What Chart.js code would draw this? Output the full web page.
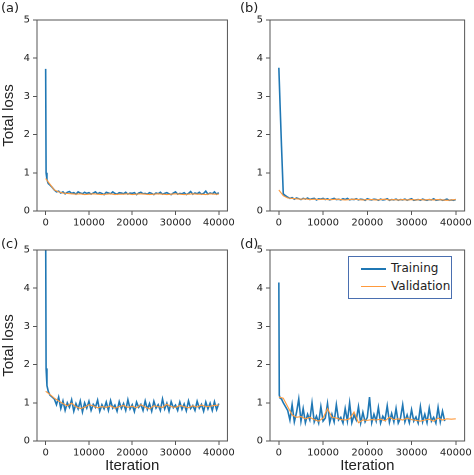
<!DOCTYPE html>
<html>
<head>
<meta charset="utf-8">
<script src="https://cdn.jsdelivr.net/npm/chart.js@4"></script>
<style>
  body { margin: 0; background: #fff; }
  #wrap { position: relative; width: 474px; height: 475px; }
  .panel { position: absolute; }
  .lbl { position: absolute; font: 13px "DejaVu Sans", sans-serif; color: #222; }
  #legend { position: absolute; left: 348px; top: 256px; width: 102px; height: 41px;
            border: 1px solid #4a6fb0; font: 12px "DejaVu Sans", sans-serif; color: #222; background: #fff; }
  #legend div { position: absolute; left: 12px; white-space: nowrap; }
  #legend span { display: inline-block; width: 25px; vertical-align: middle; margin-right: 5px; }
</style>
</head>
<body>
<div id="wrap">
  <canvas id="ca" class="panel" style="left:0;top:0"></canvas>
  <canvas id="cb" class="panel" style="left:237px;top:0"></canvas>
  <canvas id="cc" class="panel" style="left:0;top:235px"></canvas>
  <canvas id="cd" class="panel" style="left:237px;top:235px"></canvas>
  <div class="lbl" style="left:1px;top:0">(a)</div>
  <div class="lbl" style="left:240px;top:0">(b)</div>
  <div class="lbl" style="left:1px;top:236px">(c)</div>
  <div class="lbl" style="left:240px;top:236px">(d)</div>
  <div id="legend">
    <div style="top:4px"><span style="border-top:2px solid #1f77b4"></span>Training</div>
    <div style="top:22px"><span style="border-top:1px solid #ff9a3c"></span>Validation</div>
  </div>
</div>
<script>
// iteration axis
const xTicks = [0, 10000, 20000, 30000, 40000];
const yTicks = [0, 1, 2, 3, 4, 5];

// training samples: early iterations then every 500
const trainIter = [0, 100, 300, 600, 1000, 1500];
for (let it = 2000; it <= 40000; it += 500) trainIter.push(it);

const trainA = [3.72, 1.0, 0.82, 0.72, 0.68, 0.62,
  0.55, 0.50, 0.52, 0.47, 0.50, 0.45, 0.49, 0.51, 0.46, 0.48, 0.44, 0.50, 0.47, 0.45, 0.49, 0.46,
  0.48, 0.44, 0.47, 0.50, 0.45, 0.48, 0.46, 0.43, 0.49, 0.47, 0.45, 0.50, 0.46, 0.44, 0.48, 0.47,
  0.45, 0.49, 0.44, 0.47, 0.46, 0.48, 0.43, 0.47, 0.49, 0.45, 0.46, 0.44, 0.48, 0.46, 0.43, 0.47,
  0.45, 0.49, 0.44, 0.46, 0.48, 0.45, 0.43, 0.47, 0.50, 0.44, 0.46, 0.45, 0.48, 0.43, 0.46, 0.51,
  0.44, 0.47, 0.45, 0.49, 0.44, 0.46, 0.52, 0.44, 0.47, 0.45, 0.50, 0.44, 0.48];
const trainB = [3.75, 3.4, 2.7, 1.7, 0.45, 0.40,
  0.36, 0.33, 0.35, 0.31, 0.34, 0.32, 0.30, 0.33, 0.31, 0.34, 0.30, 0.32, 0.33, 0.29, 0.32, 0.31,
  0.33, 0.30, 0.32, 0.29, 0.31, 0.33, 0.30, 0.31, 0.29, 0.32, 0.30, 0.33, 0.29, 0.31, 0.30, 0.32,
  0.29, 0.31, 0.30, 0.28, 0.32, 0.30, 0.29, 0.31, 0.30, 0.28, 0.31, 0.29, 0.30, 0.32, 0.28, 0.30,
  0.29, 0.31, 0.28, 0.30, 0.29, 0.31, 0.28, 0.30, 0.32, 0.28, 0.29, 0.30, 0.28, 0.31, 0.29, 0.28,
  0.30, 0.29, 0.32, 0.28, 0.29, 0.30, 0.28, 0.29, 0.31, 0.28, 0.29, 0.28, 0.30];
const trainC = [5.6, 1.9, 1.45, 1.3, 1.2, 1.15,
  1.1, 0.95, 1.15, 0.85, 1.05, 0.80, 1.0, 0.88, 1.08, 0.78, 0.98, 0.84, 1.05, 0.76, 1.0, 0.86,
  1.04, 0.80, 0.96, 0.88, 1.07, 0.78, 0.95, 0.84, 1.02, 0.80, 1.06, 0.86, 0.94, 0.78, 1.03, 0.85,
  0.98, 0.80, 1.08, 0.84, 0.95, 0.77, 1.02, 0.88, 0.96, 0.80, 1.05, 0.83, 0.98, 0.78, 1.04, 0.86,
  0.95, 0.80, 1.10, 0.84, 0.99, 0.78, 1.03, 0.87, 0.94, 0.80, 1.02, 0.83, 0.97, 0.79, 1.05, 0.85,
  0.93, 0.80, 1.04, 0.86, 0.96, 0.78, 1.02, 0.84, 0.99, 0.80, 1.03, 0.82, 0.98];
const trainD = [4.15, 1.2, 1.12, 1.1, 1.0, 0.9,
  0.8, 0.55, 0.95, 0.50, 0.75, 1.1, 0.52, 0.85, 0.48, 0.70, 0.55, 1.0, 0.50, 0.65, 0.47, 0.90,
  0.52, 0.60, 0.98, 0.48, 0.70, 0.50, 0.95, 0.55, 0.62, 0.47, 0.85, 0.52, 1.0, 0.48, 0.68, 0.55,
  0.90, 0.47, 0.75, 0.50, 0.62, 1.15, 0.48, 0.70, 0.52, 0.88, 0.47, 0.65, 0.55, 0.92, 0.49, 0.72,
  0.50, 0.85, 0.47, 0.60, 0.95, 0.50, 0.68, 0.48, 0.82, 0.52, 0.63, 0.47, 0.90, 0.50, 0.70, 0.48,
  0.86, 0.52, 0.62, 0.47, 0.88, 0.50, 0.78, 0.52];

// validation samples, roughly every 1000 iterations
const valIter = [];
for (let it = 0; it <= 40000; it += 1000) valIter.push(it);
const valA = [0.85, 0.70, 0.55, 0.50, 0.47, 0.46, 0.45, 0.44, 0.45, 0.43, 0.44, 0.45, 0.44, 0.43,
  0.44, 0.45, 0.43, 0.44, 0.44, 0.45, 0.43, 0.44, 0.45, 0.44, 0.43, 0.44, 0.45, 0.44, 0.43, 0.44,
  0.45, 0.44, 0.43, 0.44, 0.45, 0.44, 0.44, 0.43, 0.45, 0.44, 0.44];
const valB = [0.55, 0.40, 0.34, 0.33, 0.32, 0.31, 0.32, 0.30, 0.31, 0.30, 0.31, 0.30, 0.30, 0.31,
  0.30, 0.29, 0.30, 0.31, 0.30, 0.29, 0.30, 0.30, 0.29, 0.30, 0.31, 0.29, 0.30, 0.29, 0.30, 0.29,
  0.30, 0.29, 0.30, 0.29, 0.30, 0.29, 0.30, 0.29, 0.28, 0.29, 0.30];
const valC = [1.3, 1.22, 1.12, 1.05, 0.98, 0.92, 0.99, 0.90, 0.85, 0.88, 0.95, 0.92, 0.87, 0.90,
  0.88, 0.92, 0.86, 0.90, 0.93, 0.88, 0.91, 0.87, 0.95, 0.89, 0.84, 0.92, 0.90, 0.88, 0.96, 0.90,
  0.88, 0.93, 0.90, 0.87, 0.92, 0.89, 0.94, 0.90, 0.91, 0.93, 0.94];
const valD = [1.15, 1.12, 0.90, 0.68, 0.62, 0.64, 0.58, 0.62, 0.56, 0.52, 0.60, 0.85, 0.62, 0.60,
  0.56, 0.55, 0.58, 0.76, 0.48, 0.55, 0.54, 0.56, 0.55, 0.57, 0.53, 0.62, 0.56, 0.58, 0.55, 0.60,
  0.56, 0.54, 0.52, 0.55, 0.57, 0.52, 0.60, 0.55, 0.58, 0.57, 0.58];

const blue = '#1f77b4';
const orange = '#ff9a3c';

const frame = {
  id: 'frame',
  afterDraw(chart) {
    const a = chart.chartArea, c = chart.ctx;
    c.save();
    c.strokeStyle = '#555';
    c.lineWidth = 1;
    c.strokeRect(a.left, a.top, a.right - a.left, a.bottom - a.top);
    c.restore();
  }
};

function pts(xs, ys) {
  return ys.map((y, i) => ({ x: xs[i], y: y }));
}

function makePanel(id, w, h, yW, xH, train, val, showY, showX) {
  const el = document.getElementById(id);
  el.style.width = w + 'px';
  el.style.height = h + 'px';
  const tickFont = { family: 'DejaVu Sans', size: 10 };
  const titleFont = { family: 'Liberation Sans', size: 15 };
  new Chart(el, {
    type: 'line',
    data: {
      // first dataset is drawn on top, validation sits over training
      datasets: [
        { data: pts(valIter, val), borderColor: orange, borderWidth: 1.1, pointRadius: 0, tension: 0 },
        { data: pts(trainIter, train), borderColor: blue, borderWidth: 1.6, pointRadius: 0, tension: 0 }
      ]
    },
    options: {
      responsive: false,
      animation: false,
      devicePixelRatio: 2,
      layout: { padding: { top: showX ? 15 : 20, right: 7, left: 0, bottom: 0 } },
      plugins: { legend: { display: false }, tooltip: { enabled: false } },
      scales: {
        x: {
          type: 'linear', min: -2000, max: 42000,
          afterBuildTicks: s => { s.ticks = xTicks.map(v => ({ value: v })); },
          afterFit: s => { s.height = xH; },
          grid: { drawOnChartArea: false, tickLength: 4, color: '#555' },
          border: { color: '#555' },
          ticks: { color: '#222', font: tickFont, maxRotation: 0, padding: 2, callback: v => String(v) },
          title: { display: showX, text: 'Iteration', color: '#222', font: titleFont, padding: 0 }
        },
        y: {
          min: 0, max: 5,
          afterBuildTicks: s => { s.ticks = yTicks.map(v => ({ value: v })); },
          afterFit: s => { s.width = yW; },
          grid: { drawOnChartArea: false, tickLength: 4, color: '#555' },
          border: { color: '#555' },
          ticks: { color: '#222', font: tickFont, padding: 3 },
          title: { display: showY, text: 'Total loss', color: '#222', font: titleFont, padding: 0 }
        }
      }
    },
    plugins: [frame]
  });
}

makePanel('ca', 237, 235, 37, 24, trainA, valA, true, false);
makePanel('cb', 237, 235, 33, 24, trainB, valB, false, false);
makePanel('cc', 237, 240, 37, 34, trainC, valC, true, true);
makePanel('cd', 237, 240, 33, 34, trainD, valD, false, true);
</script>
</body>
</html>
